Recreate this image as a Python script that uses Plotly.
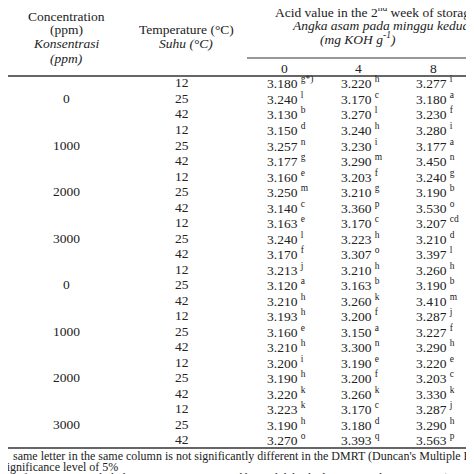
import plotly.graph_objects as go

W = H = 474
concentrations = ["0", "1000", "2000", "3000", "0", "1000", "2000", "3000"]
temperatures = ["12", "25", "42"] * 8
day0 = ["3.180", "3.240", "3.130", "3.150", "3.257", "3.177", "3.160", "3.250", "3.140", "3.163", "3.240", "3.170",
        "3.213", "3.120", "3.210", "3.193", "3.160", "3.210", "3.200", "3.190", "3.220", "3.223", "3.190", "3.270"]
let0 = ["g*)", "l", "b", "d", "n", "g", "e", "m", "c", "e", "l", "f",
        "j", "a", "h", "h", "e", "h", "i", "h", "k", "k", "h", "o"]
day4 = ["3.220", "3.170", "3.270", "3.240", "3.230", "3.290", "3.203", "3.210", "3.360", "3.170", "3.223", "3.307",
        "3.210", "3.163", "3.260", "3.200", "3.150", "3.300", "3.190", "3.200", "3.260", "3.170", "3.180", "3.393"]
let4 = ["h", "c", "l", "h", "i", "m", "f", "g", "p", "c", "h", "o",
        "h", "b", "k", "f", "a", "n", "e", "f", "k", "c", "d", "q"]
day8 = ["3.277", "3.180", "3.230", "3.280", "3.177", "3.450", "3.240", "3.190", "3.530", "3.207", "3.210", "3.397",
        "3.260", "3.190", "3.410", "3.287", "3.227", "3.290", "3.220", "3.203", "3.330", "3.287", "3.290", "3.563"]
let8 = ["i", "a", "f", "i", "a", "n", "g", "b", "o", "cd", "d", "l",
        "h", "b", "m", "j", "f", "h", "e", "c", "k", "j", "h", "p"]
col_heads = ["0", "4", "8"]

FONT = "Liberation Serif"
fig = go.Figure()
ann = []
def add(x, y, t, size=13.5, anchor="center", italic=False):
    if italic:
        t = "<i>" + t + "</i>"
    ann.append(dict(x=x / W, y=1 - y / H, xref="paper", yref="paper", text=t, showarrow=False,
                    xanchor=anchor, yanchor="middle", font=dict(family=FONT, size=size, color="#222")))

# header
for i, t in enumerate(["Concentration", "(ppm)", "Konsentrasi", "(ppm)"]):
    add(58, 8 + 14 * i, t, italic=(i >= 2))
add(178, 22, "Temperature (°C)")
add(178, 36, "Suhu (°C)", italic=True)
add(265, 3, "Acid value in the 2<sup>nd</sup> week of storage (mg KOH g<sup>-1</sup>)", anchor="left")
add(282, 17, "Angka asam pada minggu kedua penyimpanan", anchor="left", italic=True)
add(350, 30, "(mg KOH g<sup>-1</sup>)", italic=True)
xs = [276, 350, 425]
for x, h in zip(xs, col_heads):
    add(x, 60, h)

y0, dy = 75, 15.5
for g, c in enumerate(concentrations):
    add(58, y0 + dy * (3 * g + 1), c)
for i in range(24):
    y = y0 + dy * i
    add(183, y, temperatures[i], anchor="right")
    for x, v, l in zip(xs, [day0, day4, day8], [let0, let4, let8]):
        add(x - 19, y, v[i] + " <sup>" + l[i] + "</sup>", anchor="left")

fs = 12
add(3, 448, "same letter in the same column is not significantly different in the DMRT (Duncan's Multiple Range Test) at", size=fs, anchor="left")
add(-8, 459, "significance level of 5%", size=fs, anchor="left")
add(-14, 470, "Huruf yang sama pada kolom yang sama menunjukkan tidak berbeda nyata pada uji DMRT (Duncan's Multiple Range Test)", size=fs, anchor="left", italic=True)

shapes = []
def hline(x1, x2, y, w):
    shapes.append(dict(type="line", xref="paper", yref="paper", x0=x1 / W, x1=x2 / W,
                       y0=1 - y / H, y1=1 - y / H, line=dict(color="#333", width=w)))
hline(239, 480, 50, 1.2)
hline(-5, 480, 68, 1.5)
hline(-5, 480, 440, 1.5)

fig.update_layout(width=W, height=H, margin=dict(l=0, r=0, t=0, b=0), paper_bgcolor="white",
                  plot_bgcolor="white", annotations=ann, shapes=shapes,
                  xaxis=dict(visible=False), yaxis=dict(visible=False))
fig.write_html("out.html")
